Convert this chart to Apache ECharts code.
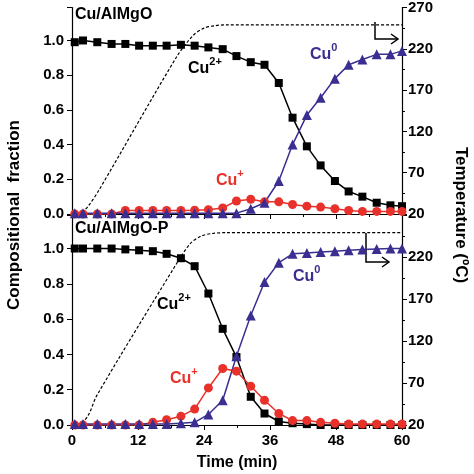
<!DOCTYPE html>
<html><head><meta charset="utf-8">
<script src="https://cdn.jsdelivr.net/npm/echarts@6/dist/echarts.min.js"></script>
<style>html,body{margin:0;padding:0;background:#fff}#main{width:474px;height:474px}</style>
</head><body><div id="main"></div>
<script>
var times = [0.5,2,4.6,7.2,9.7,12.2,14.7,17.2,19.8,22.3,24.8,27.4,29.9,32.5,35,37.6,40.1,42.7,45.2,47.8,50.3,52.8,55.4,57.9,60];
// Cu/AlMgO
var topCu2 = [0.99,1.0,0.99,0.98,0.98,0.97,0.97,0.97,0.975,0.97,0.96,0.95,0.91,0.875,0.86,0.755,0.555,0.39,0.28,0.19,0.13,0.10,0.065,0.05,0.045];
var topCu1 = [0,0,0,0,0.02,0.02,0.02,0.02,0.02,0.022,0.025,0.035,0.075,0.085,0.07,0.07,0.055,0.045,0.04,0.03,0.02,0.015,0.015,0.015,0.015];
var topCu0 = [0.005,0.005,0.005,0.005,0.005,0.005,0.005,0.005,0.005,0.005,0.005,0.005,0.005,0.03,0.065,0.19,0.40,0.57,0.67,0.78,0.86,0.89,0.92,0.92,0.94];
var topTemp = [[0,20],[1.5,21],[3,30],[5,50],[19,210],[22,236],[24,245],[26,248],[28,249],[60,249]];
// Cu/AlMgO-P
var botCu2 = [1.0,1.0,1.0,1.0,0.995,0.99,0.985,0.97,0.945,0.9,0.745,0.545,0.385,0.16,0.065,0.02,0.01,0.005,0,0,0,0,0,0,0];
var botCu1 = [0,0,0,0,0,0,0.015,0.03,0.05,0.09,0.21,0.32,0.305,0.22,0.14,0.065,0.025,0.025,0.015,0.01,0.005,0.005,0.005,0.005,0.005];
var botCu0 = [0.005,0.005,0.005,0.005,0.005,0.005,0.005,0.005,0.01,0.015,0.06,0.14,0.39,0.62,0.81,0.92,0.97,0.975,0.98,0.985,0.99,0.995,0.998,1.0,1.0];
var botTemp = [[0,20],[1.5,21],[3,32],[4.5,55],[19,212],[21.5,236],[23.5,245],[25.5,248],[28,249],[60,249]];

function pairs(v){ return v.map(function(y,i){ return [times[i], y]; }); }

var font = 'Liberation Sans';
var black = '#000', red = '#e8312a', blue = '#3a2e91';
var tick = {fontFamily: font, fontWeight: 'bold', fontSize: 15, color: '#000'};

function xAx(i, show){
  return {type:'value', gridIndex:i, min:0, max:60, interval:12,
    axisLine:{onZero:false, lineStyle:{color:'#000', width:1.2}},
    axisTick:{show:true, length:5, lineStyle:{color:'#000'}},
    minorTick:{show:true, splitNumber:2, length:3, lineStyle:{color:'#000'}},
    axisLabel: show ? Object.assign({margin:8}, tick) : {show:false},
    splitLine:{show:false},
    name: show ? 'Time (min)' : '', nameLocation:'middle', nameGap:30,
    nameTextStyle:{fontFamily:font, fontWeight:'bold', fontSize:16, color:'#000'}};
}
function yL(i){
  return {type:'value', gridIndex:i, min:0, max:1.19, interval:0.2,
    axisLine:{show:true, lineStyle:{color:'#000', width:1.2}},
    axisTick:{show:true, length:5, lineStyle:{color:'#000'}},
    axisLabel:Object.assign({margin:8, formatter:function(v){ return v > 1.01 ? '' : v.toFixed(1); }}, tick),
    splitLine:{show:false}};
}
function yR(i){
  return {type:'value', gridIndex:i, position:'right', min:20, max:270, interval:50,
    axisLine:{show:true, lineStyle:{color:'#000', width:1.2}},
    axisTick:{show:true, length:5, lineStyle:{color:'#000'}},
    minorTick:{show:true, splitNumber:2, length:3, lineStyle:{color:'#000'}},
    axisLabel:Object.assign({margin:6, formatter:function(v){ return (i === 1 && v === 270) ? '' : v; }}, tick),
    splitLine:{show:false}};
}
function ser(data, color, sym, size, xi, yi){
  return {type:'line', xAxisIndex:xi, yAxisIndex:yi, data:pairs(data), symbol:sym, symbolSize:size,
    itemStyle:{color:color}, lineStyle:{color:color, width:1.5}, z:3};
}
function temp(data, xi, yi){
  return {type:'line', xAxisIndex:xi, yAxisIndex:yi, data:data, smooth:0.3, symbol:'none',
    lineStyle:{color:'#000', width:1.2, type:[3,2]}, z:2};
}
function lbl(x, y, base, sup, color){
  return {type:'text', left:x, top:y, style:{
    text:'{b|' + base + '}{s|' + sup + '}', fill:color,
    rich:{b:{fontFamily:font, fontWeight:'bold', fontSize:16, fill:color, verticalAlign:'bottom'},
          s:{fontFamily:font, fontWeight:'bold', fontSize:11, fill:color, verticalAlign:'top', padding:[0,0,10,0]}}}};
}
function arrow(x, y1, y2, x2){
  return {type:'group', children:[
    {type:'polyline', shape:{points:[[x,y1],[x,y2],[x2,y2]]}, style:{stroke:'#000', lineWidth:1.5, fill:null}},
    {type:'polyline', shape:{points:[[x2-7,y2-5],[x2,y2],[x2-7,y2+5]]}, style:{stroke:'#000', lineWidth:1.5, fill:null}}
  ]};
}

var myChart = echarts.init(document.getElementById('main'));
var option = {
  backgroundColor:'#fff',
  animation:false,
  grid:[{left:72, right:72, top:4, height:210}, {left:72, right:72, top:215, height:210}],
  xAxis:[xAx(0,false), xAx(1,true)],
  yAxis:[yL(0), yR(0), yL(1), yR(1)],
  series:[
    temp(topTemp,0,1),
    ser(topCu2, black, 'rect', 8, 0, 0),
    ser(topCu1, red, 'circle', 9, 0, 0),
    ser(topCu0, blue, 'triangle', 10, 0, 0),
    temp(botTemp,1,3),
    ser(botCu2, black, 'rect', 8, 1, 2),
    ser(botCu1, red, 'circle', 9, 1, 2),
    ser(botCu0, blue, 'triangle', 10, 1, 2)
  ],
  graphic:[
    {type:'text', left:75, top:7, style:{text:'Cu/AlMgO', fontFamily:font, fontWeight:'bold', fontSize:16, fill:'#000'}},
    {type:'text', left:75, top:221, style:{text:'Cu/AlMgO-P', fontFamily:font, fontWeight:'bold', fontSize:16, fill:'#000'}},
    lbl(188, 56, 'Cu', '2+', black),
    lbl(310, 42, 'Cu', '0', blue),
    lbl(216, 168, 'Cu', '+', red),
    lbl(157, 292, 'Cu', '2+', black),
    lbl(293, 264, 'Cu', '0', blue),
    lbl(170, 366, 'Cu', '+', red),
    arrow(375, 22, 39, 398),
    arrow(366, 233, 262, 389),
    {type:'text', x:14, y:215, rotation:Math.PI/2,
      style:{text:'Compositional  fraction', fontFamily:font, fontWeight:'bold', fontSize:17, fill:'#000', align:'center', verticalAlign:'middle'}},
    {type:'text', x:461, y:215, rotation:-Math.PI/2,
      style:{text:'Temperature (ºC)', fontFamily:font, fontWeight:'bold', fontSize:17, fill:'#000', align:'center', verticalAlign:'middle'}}
  ]
};
myChart.setOption(option);
</script></body></html>
